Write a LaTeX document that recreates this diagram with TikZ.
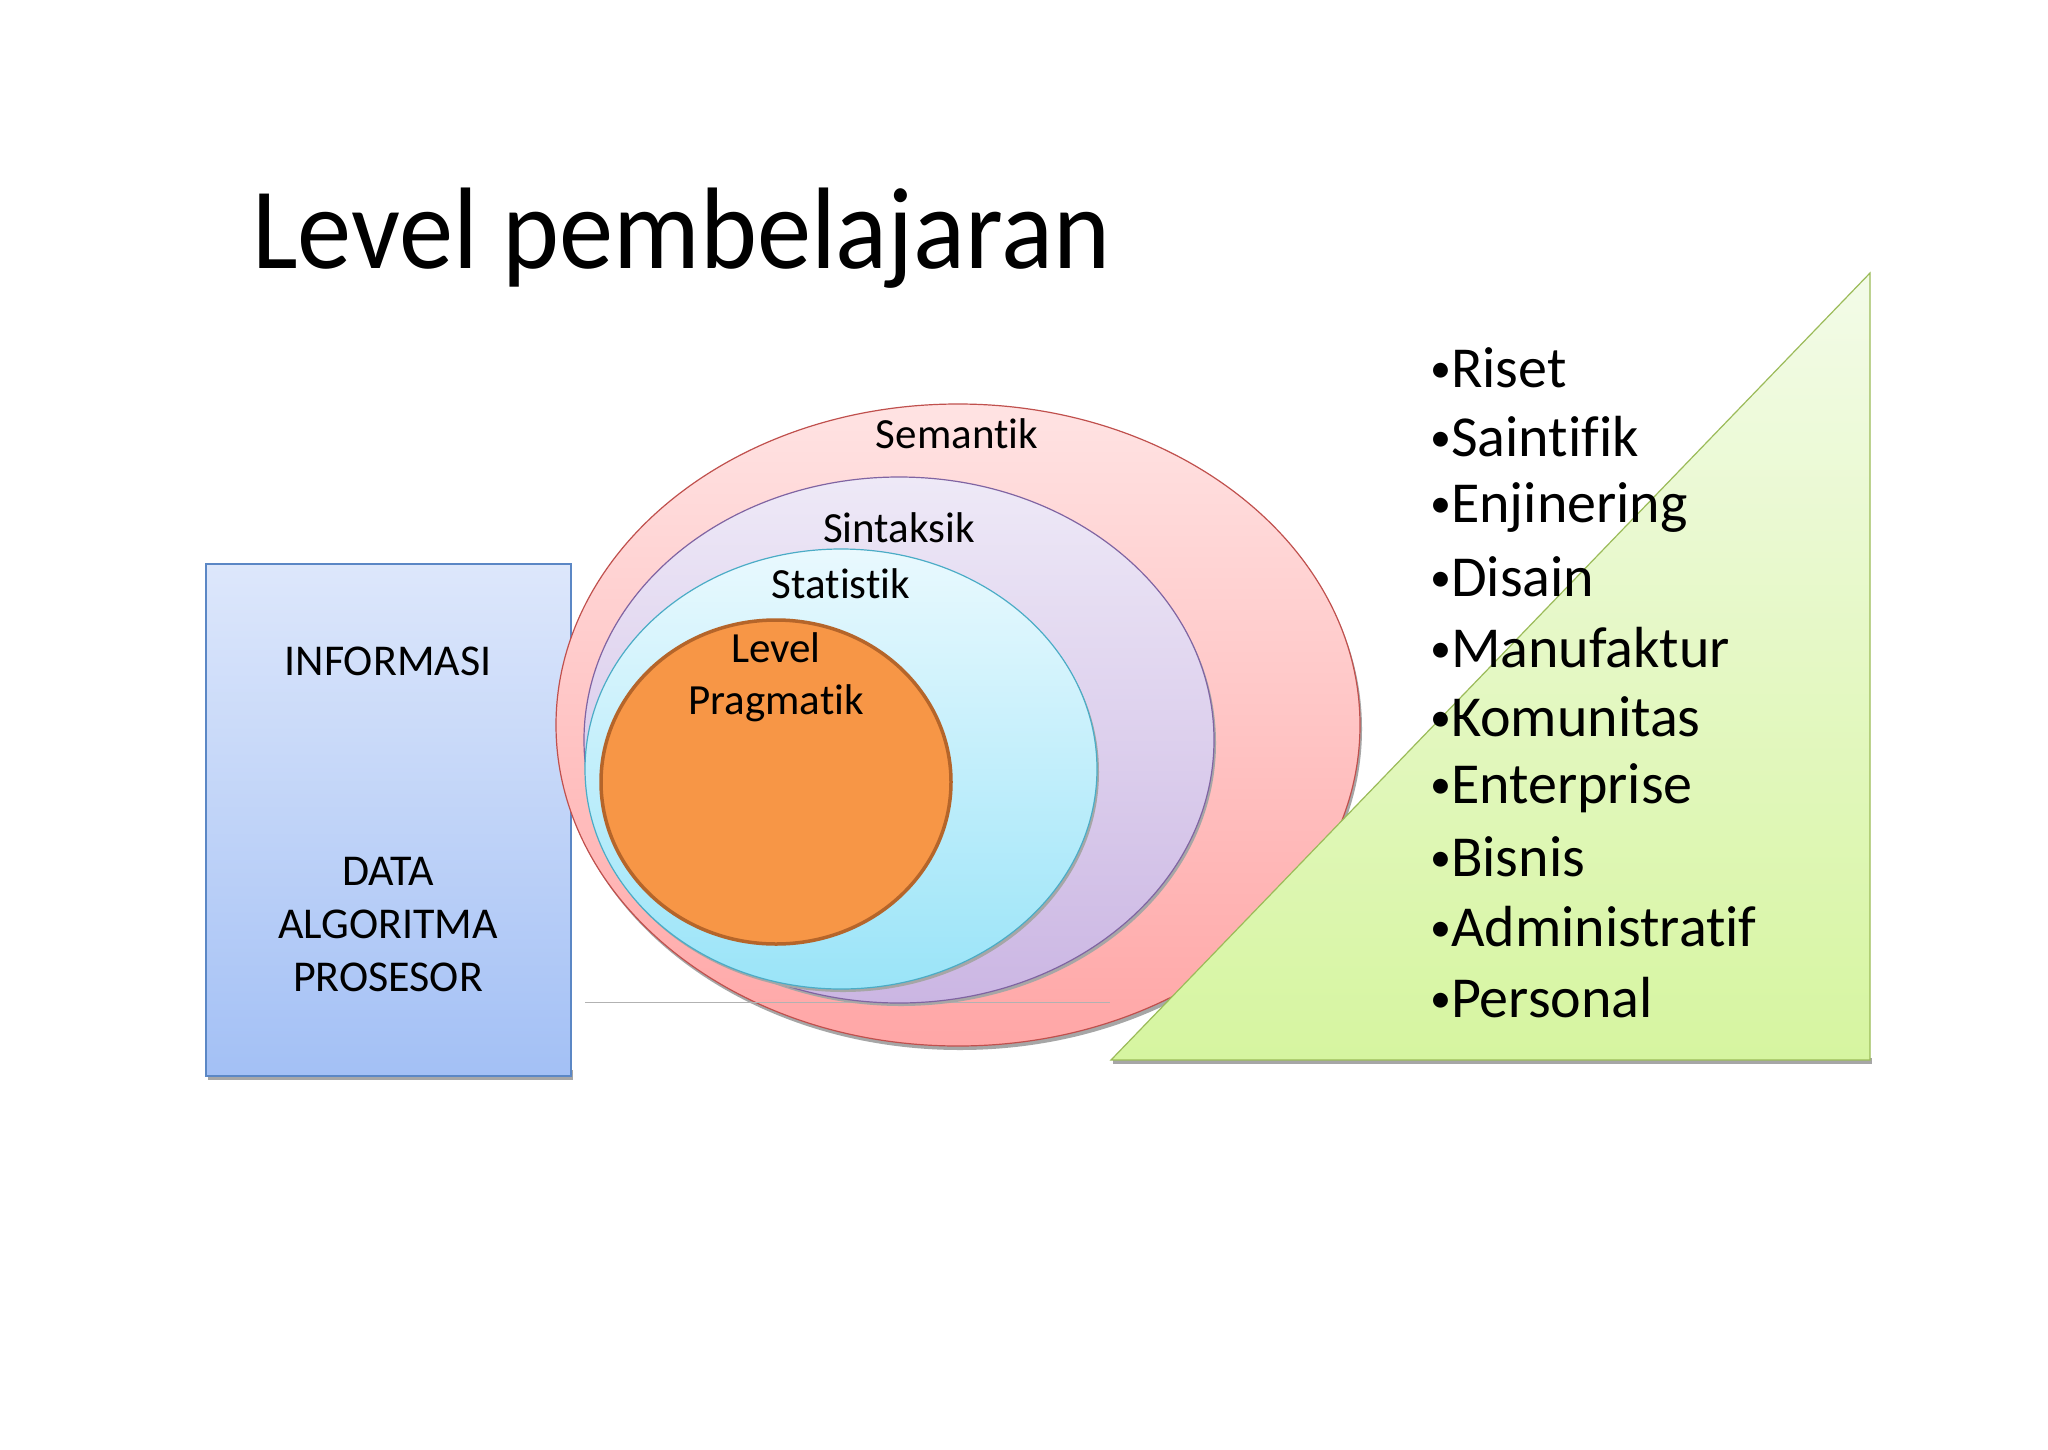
\documentclass[tikz,border=0pt]{standalone}
\usepackage{graphicx}
\usepackage{fontspec}
\setmainfont{Carlito}[Ligatures={NoCommon}]
\definecolor{bluetop}{HTML}{DDE7FB}
\definecolor{bluebot}{HTML}{A3C0F5}
\definecolor{blueborder}{HTML}{5B87C5}
\definecolor{pinktop}{HTML}{FFE3E3}
\definecolor{pinkbot}{HTML}{FFA6A6}
\definecolor{pinkborder}{HTML}{C0504D}
\definecolor{purtop}{HTML}{EEE9F7}
\definecolor{purbot}{HTML}{CBB6E3}
\definecolor{purborder}{HTML}{8064A2}
\definecolor{cyantop}{HTML}{E9F9FE}
\definecolor{cyanbot}{HTML}{9AE4F8}
\definecolor{cyanborder}{HTML}{4BACC6}
\definecolor{orangefill}{HTML}{F79646}
\definecolor{orangeborder}{HTML}{B5652A}
\definecolor{greentop}{HTML}{F3FBE8}
\definecolor{greenbot}{HTML}{D6F5A0}
\definecolor{greenborder}{HTML}{9BBB59}
\newcommand{\smbullet}{{\fontsize{42}{42}\selectfont\raisebox{5pt}{•}}}
\tikzset{
  lbl/.style={font=\fontsize{43}{52}\selectfont, inner sep=0pt, align=center},
  boxtxt/.style={font=\fontsize{44}{53}\selectfont, align=center, inner sep=0pt},
  listitem/.style={font=\fontsize{58}{70}\selectfont, anchor=west, inner sep=0pt},
  shadowfill/.style={fill=black!35},
}
\begin{document}
\begin{tikzpicture}[x=1pt,y=-1pt]
\useasboundingbox[fill=white] (0,0) rectangle (2048,1449);

% title
\node[anchor=base west, font=\fontsize{116}{130}\selectfont, inner sep=0pt] (title) at (252,268) {\scalebox{0.935}[1]{Level pembelajaran}};

% blue box
\fill[shadowfill] (208,1070) rectangle (573,1080);
\draw[draw=blueborder, line width=1.2pt, top color=bluetop, bottom color=bluebot] (206,564) rectangle (571,1076);
\node[boxtxt] (info) at (388,661) {INFORMASI};
\node[boxtxt] (data) at (388,925) {DATA\\ALGORITMA\\PROSESOR};

% ellipses
\fill[shadowfill] (960,729) ellipse [x radius=402, y radius=321];
\draw[draw=pinkborder, line width=1.2pt, top color=pinktop, bottom color=pinkbot] (958,725) ellipse [x radius=402, y radius=321];
\draw[gray!60, line width=1pt] (585,1002) -- (1110,1002);
\fill[shadowfill] (901,743) ellipse [x radius=315, y radius=263];
\draw[draw=purborder, line width=1.2pt, top color=purtop, bottom color=purbot] (899,740) ellipse [x radius=315, y radius=263];
\fill[shadowfill] (843,772) ellipse [x radius=256, y radius=220];
\draw[draw=cyanborder, line width=1.2pt, top color=cyantop, bottom color=cyanbot] (841,769) ellipse [x radius=256, y radius=220];
\draw[draw=orangeborder, line width=3.5pt, fill=orangefill] (776,782) ellipse [x radius=175, y radius=162];

\node[lbl] (sem) at (957,434) {Semantik};
\node[lbl] (sin) at (899,528) {Sintaksik};
\node[lbl] (sta) at (841,584) {Statistik};
\node[lbl] (pra) at (776,677) {Level\\Pragmatik};

% triangle
\fill[shadowfill] (1113,1058) -- (1872,1058) -- (1872,1064) -- (1113,1064) -- cycle;
\draw[draw=greenborder, line width=1.2pt, top color=greentop, bottom color=greenbot] (1111,1060) -- (1870,1060) -- (1870,273) -- cycle;

% list
\foreach \n/\t/\y in {a/Riset/368, b/Saintifik/437, c/Enjinering/508, d/Disain/577, e/Manufaktur/648, f/Komunitas/717, g/Enterprise/788, h/Bisnis/857, i/Administratif/927, j/Personal/998}{
  \node[listitem] (item\n) at (1430,\y) {\smbullet\t};
}
\end{tikzpicture}
\end{document}
